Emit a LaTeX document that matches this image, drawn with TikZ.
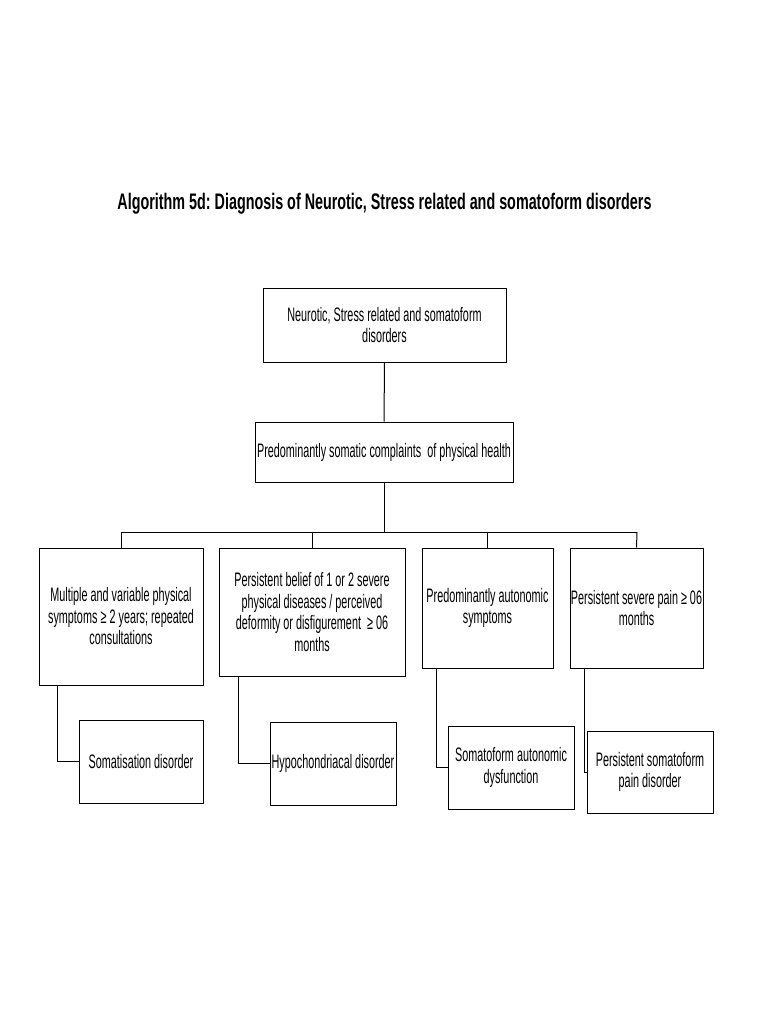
\documentclass[tikz,border=0pt]{standalone}
\usepackage{fontspec}
\usepackage{graphicx}
\setmainfont[FakeStretch=0.555]{Liberation Sans}
\newfontfamily\titlefont{Liberation Sans}
\begin{document}
\frenchspacing
\begin{tikzpicture}[x=1pt,y=-1pt,
  box/.style={draw=black,line width=1pt,fill=white,align=center,inner sep=0pt,
    font=\fontsize{19.5}{21.5}\selectfont},
  conn/.style={draw=black,line width=1pt}]
\useasboundingbox[fill=white] (0,0) rectangle (768,1024);
\node[anchor=base,inner sep=0pt] (title) at (384.5,209)
  {\resizebox{534pt}{\height}{\titlefont\bfseries\fontsize{22.5}{24}\selectfont Algorithm 5d: Diagnosis of Neurotic, Stress related and somatoform disorders}};
\node[box,minimum width=243pt,minimum height=74pt] (A) at (384.5,325)
  {Neurotic, Stress related and somatoform\\disorders};
\node[box,minimum width=258pt,minimum height=60pt] (B) at (384,452)
  {Predominantly somatic complaints\ \ of physical health};
\node[box,minimum width=164pt,minimum height=137pt] (b1) at (121,616.5)
  {Multiple and variable physical\\symptoms\,≥ 2 years; repeated\\consultations};
\node[box,minimum width=186pt,minimum height=128pt] (b2) at (312,612)
  {Persistent belief of 1 or 2 severe\\physical diseases / perceived\\deformity or disfigurement\ \ ≥ 06\\months};
\node[box,minimum width=131pt,minimum height=120pt] (b3) at (487.5,608)
  {Predominantly autonomic\\symptoms};
\node[box,minimum width=133pt,minimum height=120pt] (b4) at (636.5,608)
  {Persistent severe pain ≥ 06\\months};
\node[box,minimum width=124pt,minimum height=83pt] (l1) at (141,761.5)
  {Somatisation disorder};
\node[box,minimum width=126pt,minimum height=83pt] (l2) at (333,763.5)
  {Hypochondriacal disorder};
\node[box,minimum width=126pt,minimum height=83pt] (l3) at (511,767.5)
  {Somatoform autonomic\\dysfunction};
\node[box,minimum width=126pt,minimum height=82pt] (l4) at (650,772)
  {Persistent somatoform\\pain disorder};
\coordinate (busL) at (121,532);
\coordinate (busR) at (637,532);
\coordinate (k1) at (57,0);
\coordinate (k2) at (238,0);
\coordinate (k3) at (436,0);
\coordinate (k4) at (584,0);
\draw[conn] (A.south) -- (B.north);
\draw[conn] (B.south) -- (B.south |- busL);
\draw[conn] (busL) -- (busR);
\draw[conn] (busL) -- (b1.north);
\draw[conn] (b2.north |- busL) -- (b2.north);
\draw[conn] (b3.north |- busL) -- (b3.north);
\draw[conn] (busR) -- (b4.north);
\draw[conn] (b1.south -| k1) |- (l1.west);
\draw[conn] (b2.south -| k2) |- (l2.west);
\draw[conn] (b3.south -| k3) |- (l3.west);
\draw[conn] (b4.south -| k4) |- (l4.west);
\end{tikzpicture}
\end{document}
